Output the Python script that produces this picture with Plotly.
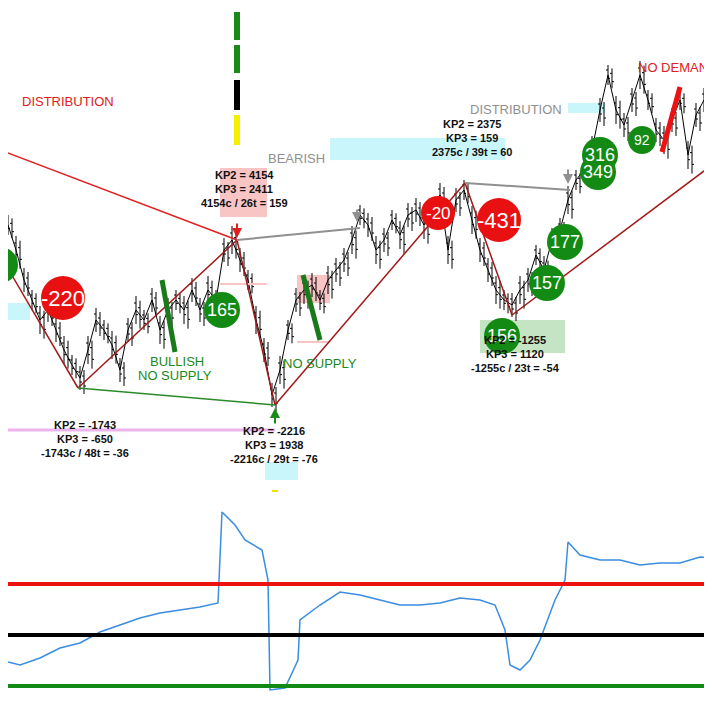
import plotly.graph_objects as go

# price path (pixel-space chart coordinates)
px = list(range(0, 713, 8))
py = [215,225,250,280,300,320,310,330,350,365,378,350,320,330,345,370,330,310,320,300,330,310,300,310,290,310,290,300,250,240,260,280,320,350,395,370,330,300,290,285,300,280,270,260,240,215,225,250,240,220,235,215,210,225,210,195,250,200,190,220,250,270,290,300,305,290,280,255,270,240,230,200,180,170,150,110,75,110,125,100,75,100,130,140,120,100,155,115,100]
bar_spread = [12,10,14,12,10,14,12,12,14,10,12,14,12,10,14,12,12,14,10,12,14,12,10,14,12,12,14,10,12,14,12,10,14,12,12,14,10,12,14,12,10,14,12,12,14,10,12,14,12,10,14,12,12,14,10,12,14,12,10,14,12,12,14,10,12,14,12,10,14,12,12,14,10,12,14,12,10,14,12,12,14,10,12,14,12,10,14,12,12]

osc_x = [0,20,40,60,80,100,120,140,160,180,200,218,222,235,245,262,268,270,285,298,300,320,340,360,380,400,420,440,460,480,495,505,510,520,530,540,555,565,568,580,600,620,640,660,680,700,712]
osc_y = [660,665,658,648,643,632,625,618,613,610,607,603,512,525,540,550,580,690,688,660,620,605,592,595,600,605,605,603,598,600,605,630,665,670,660,640,600,580,542,555,560,560,565,563,563,557,558]

circles = [(0,265,"2","g",18),(63,298,"-220","r",22),(222,310,"165","g",18),(438,213,"-20","r",17),
           (499,220,"-431","r",22),(565,242,"177","g",18),(547,283,"157","g",18),(502,336,"156","g",18),
           (598,172,"349","g",18),(600,155,"316","g",18),(642,140,"92","g",14)]

fig = go.Figure()
bx, by = [], []
for x, y, s in zip(px, py, bar_spread):
    for dx in (0, 4):
        yy = y + (s/3 if dx else 0)
        bx += [x+dx, x+dx, None, x+dx-2, x+dx, None, x+dx, x+dx+2, None]
        by += [yy-s, yy+s, None, yy-s/2, yy-s/2, None, yy+s/3, yy+s/3, None]
fig.add_trace(go.Scatter(x=bx, y=by, mode="lines", line=dict(color="black", width=1), hoverinfo="skip"))
fig.add_trace(go.Scatter(x=px, y=py, mode="lines", line=dict(color="black", width=1), hoverinfo="skip"))
fig.add_trace(go.Scatter(x=osc_x, y=osc_y, mode="lines", line=dict(color="#3a8de0", width=1.5)))

shapes = []
def rect(x0,y0,x1,y1,c):
    shapes.append(dict(type="rect",x0=x0,y0=y0,x1=x1,y1=y1,fillcolor=c,line_width=0,layer="below"))
def line(x0,y0,x1,y1,c,w):
    shapes.append(dict(type="line",x0=x0,y0=y0,x1=x1,y1=y1,line=dict(color=c,width=w)))
rect(0,303,30,320,"#c8f6fa"); rect(330,138,505,160,"#c8f6fa"); rect(568,103,605,113,"#c8f6fa")
rect(220,168,267,217,"#f8c4c4"); rect(297,275,330,303,"#f8c4c4"); rect(480,320,565,353,"#c4e4c4")
rect(265,462,298,480,"#c8f6fa")
line(0,430,275,430,"#ecb4ec",3)
line(220,284,267,284,"#f8c4c4",2); line(297,342,330,342,"#f8c4c4",2)
line(272,491,278,491,"#f0e000",2)
for x0,y0,x1,y1 in [(0,255,78,388),(78,388,237,240),(237,240,275,405),(275,405,465,183),(465,183,512,315),(512,315,712,165)]:
    line(x0,y0,x1,y1,"#a01818",1.5)
line(0,150,237,240,"#e02020",1.5)
line(78,388,275,405,"#2a8a2a",1.5)
line(237,240,360,228,"#909090",2); line(465,183,570,190,"#909090",2)
for y,c in [(584,"#ee1111"),(635,"black"),(686,"#138a13")]:
    line(0,y,720,y,c,4)
for y0,y1,c in [(12,40,"#1a8a1a"),(45,73,"#1a8a1a"),(80,110,"black"),(115,145,"#f5f000")]:
    line(237,y0,237,y1,c,6)
line(162,280,175,352,"#1a7a1a",5); line(303,275,320,340,"#1a7a1a",5)
line(662,152,680,87,"#ee1111",5)

for x,y,t,c,r in circles:
    shapes.append(dict(type="circle",x0=x-r,x1=x+r,y0=y-r,y1=y+r,fillcolor="#e81010" if c=="r" else "#138a13",line_width=0))
fig.update_layout(shapes=shapes)

ann = []
def txt(x,y,t,c,s=13,xa="center"):
    ann.append(dict(x=x,y=y,text=t,showarrow=False,font=dict(color=c,size=s,family="Arial"),xanchor=xa))
for x,y,t,c,r in circles:
    txt(x,y,t,"white",int(r*1.0))
txt(68,101,"DISTRIBUTION","#e02020"); txt(296,158,"BEARISH","#909090")
txt(516,109,"DISTRIBUTION","#909090"); txt(636,67,"NO DEMAN","#e02020",13,"left")
txt(177,361,"BULLISH","#1a8a1a"); txt(175,375,"NO SUPPLY","#1a8a1a"); txt(320,363,"NO SUPPLY","#1a8a1a")
blocks = [(244,175,["KP2 = 4154","KP3 = 2411","4154c / 26t = 159"]),
          (85,425,["KP2 = -1743","KP3 = -650","-1743c / 48t = -36"]),
          (274,431,["KP2 = -2216","KP3 = 1938","-2216c / 29t = -76"]),
          (472,124,["KP2 = 2375","KP3 = 159","2375c / 39t = 60"]),
          (515,340,["KP2 = -1255","KP3 = 1120","-1255c / 23t = -54"])]
for x,y,ls in blocks:
    for i,l in enumerate(ls):
        ann.append(dict(x=x,y=y+i*14,text="<b>"+l+"</b>",showarrow=False,font=dict(color="#111",size=11,family="Arial")))
for x,y0,y1,c in [(237,222,238,"#e02020"),(275,425,408,"#1a8a1a"),(357,208,222,"#909090"),(568,168,184,"#909090")]:
    ann.append(dict(x=x,y=y1,ax=x,ay=y0,xref="x",yref="y",axref="x",ayref="y",showarrow=True,arrowhead=2,arrowsize=1,arrowwidth=2,arrowcolor=c,text=""))
fig.update_layout(annotations=ann)
fig.update_layout(width=712,height=707,margin=dict(l=0,r=0,t=0,b=0),showlegend=False,
                  plot_bgcolor="white",paper_bgcolor="white",
                  xaxis=dict(range=[8,720],visible=False),yaxis=dict(range=[715,8],visible=False))
fig.write_html("out.html")
